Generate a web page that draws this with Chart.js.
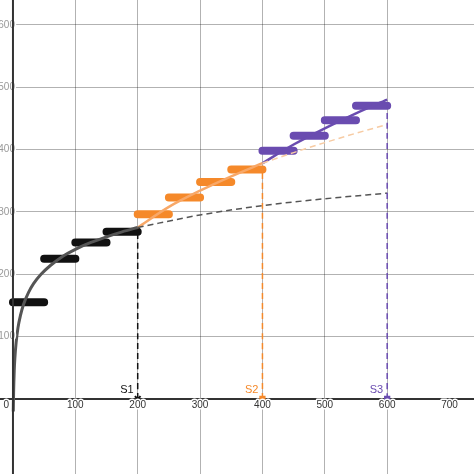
<!DOCTYPE html>
<html>
<head>
<meta charset="UTF-8">
<title>Stage curves</title>
<script src="https://cdn.jsdelivr.net/npm/chart.js"></script>
<style>
    body { margin: 0; background: #fff; }
    canvas { display: block; }
</style>
</head>
<body>
<canvas id="chart" width="474" height="474"></canvas>
<script>
    // curva principale (grigia)
    const curveX = [0.5, 1, 2, 3, 5, 8, 12, 17, 25, 33, 45, 60, 80, 100, 125, 150, 175, 200];
    const curveY = [-20, 10, 45, 65, 90, 114, 134, 152, 171, 185, 200, 214, 229, 240, 251, 260, 268, 275];
    // prolungamento tratteggiato della curva grigia
    const tailX = [200, 300, 400, 500, 600];
    const tailY = [275, 295, 310, 321, 330];
    // tratto arancione e suo prolungamento
    const orangeX = [200, 250, 300, 350, 400];
    const orangeY = [275, 308, 334, 357, 378];
    const orangeTailX = [400, 450, 500, 550, 600];
    const orangeTailY = [378, 395, 411, 426, 440];
    // tratto viola
    const purpleX = [400, 450, 500, 550, 600];
    const purpleY = [378, 408, 434, 458, 480];
    // gradini
    const stepStarts = [0, 50, 100, 150, 200, 250, 300, 350, 400, 450, 500, 550];
    const stepLevels = [155, 225, 251, 268, 296, 323, 348, 368, 398, 422, 447, 470];
    // fasi
    const stageX = [200, 400, 600];
    const stageLabels = ['S1', 'S2', 'S3'];
    // etichette assi
    const xTicks = [0, 100, 200, 300, 400, 500, 600, 700];
    const yTicks = [100, 200, 300, 400, 500, 600];

    const BLACK = '#111111', GRAY = '#555555';
    const ORANGE = '#f5892a', ORANGE_LINE = '#f8a868', ORANGE_PALE = '#f7cba3';
    const PURPLE = '#6a4cb0';
    const stageColors = [BLACK, ORANGE, PURPLE];

    function pts(xs, ys) {
        return xs.map((x, i) => ({ x: x, y: ys[i] }));
    }

    // un dataset per gruppo di 4 gradini, spezzato con y nulla
    function steps(from, to) {
        const out = [];
        for (let i = from; i < to; i++) {
            if (out.length) out.push({ x: stepStarts[i], y: null });
            out.push({ x: stepStarts[i], y: stepLevels[i] });
            out.push({ x: stepStarts[i] + 50, y: stepLevels[i] });
        }
        return out;
    }

    function line(data, color, width, dash) {
        return {
            data: data,
            showLine: true,
            borderColor: color,
            backgroundColor: color,
            borderWidth: width,
            borderDash: dash || [],
            pointRadius: 0,
            cubicInterpolationMode: 'monotone',
            spanGaps: false
        };
    }

    function bars(data, color) {
        const d = line(data, color, 8);
        d.borderCapStyle = 'round';
        d.cubicInterpolationMode = 'default';
        d.tension = 0;
        return d;
    }

    const datasets = [];
    // linee verticali tratteggiate, una per fase con il suo colore
    stageX.forEach((x, i) => {
        datasets.push(line([{ x: x, y: 0 }, { x: x, y: stepLevels[i * 4 + 3] }], stageColors[i], 1.5, [6, 4]));
    });
    datasets.push(line(pts(tailX, tailY), GRAY, 1.5, [6, 4]));
    datasets.push(line(pts(orangeTailX, orangeTailY), ORANGE_PALE, 1.5, [6, 4]));
    datasets.push(line(pts(curveX, curveY), GRAY, 3));
    datasets.push(line(pts(orangeX, orangeY), ORANGE_LINE, 2.5));
    datasets.push(line(pts(purpleX, purpleY), PURPLE, 2.5));
    datasets.push(bars(steps(0, 4), BLACK));
    datasets.push(bars(steps(4, 8), ORANGE));
    datasets.push(bars(steps(8, 12), PURPLE));
    // punti delle fasi sull'asse
    datasets.push({
        data: stageX.map(x => ({ x: x, y: 0 })),
        showLine: false,
        pointStyle: ['crossRot', 'rect', 'rect'],
        pointRadius: [4, 3, 3],
        borderWidth: 2,
        borderColor: stageColors,
        backgroundColor: stageColors
    });

    const axisLabels = {
        id: 'axisLabels',
        afterDraw(chart) {
            const ctx = chart.ctx;
            const xs = chart.scales.x, ys = chart.scales.y;
            const x0 = xs.getPixelForValue(0), y0 = ys.getPixelForValue(0);
            ctx.save();
            ctx.font = '10px "Liberation Sans", Arial, sans-serif';
            ctx.lineJoin = 'round';
            ctx.lineWidth = 3;
            ctx.strokeStyle = '#fff';
            // etichette asse x
            ctx.fillStyle = '#333';
            ctx.textBaseline = 'top';
            xTicks.forEach(v => {
                const px = xs.getPixelForValue(v);
                ctx.textAlign = v === 0 ? 'right' : 'center';
                const tx = v === 0 ? px - 4 : px;
                ctx.strokeText(String(v), tx, y0 + 1);
                ctx.fillText(String(v), tx, y0 + 1);
            });
            // etichette asse y
            ctx.fillStyle = '#999';
            ctx.textAlign = 'right';
            ctx.textBaseline = 'middle';
            yTicks.forEach(v => {
                const py = ys.getPixelForValue(v);
                ctx.strokeText(String(v), x0 + 2, py);
                ctx.fillText(String(v), x0 + 2, py);
            });
            // nomi delle fasi
            ctx.font = '11px "Liberation Sans", Arial, sans-serif';
            ctx.textBaseline = 'bottom';
            stageX.forEach((x, i) => {
                const px = xs.getPixelForValue(x);
                ctx.fillStyle = stageColors[i];
                ctx.strokeText(stageLabels[i], px - 4, y0 - 4);
                ctx.fillText(stageLabels[i], px - 4, y0 - 4);
            });
            // asse verticale sopra le etichette
            ctx.strokeStyle = '#333';
            ctx.lineWidth = 2;
            ctx.beginPath();
            ctx.moveTo(x0, chart.chartArea.top);
            ctx.lineTo(x0, chart.chartArea.bottom);
            ctx.stroke();
            ctx.restore();
        }
    };

    function gridOpts() {
        return {
            drawTicks: false,
            color: c => c.tick && c.tick.value === 0 ? '#333' : 'rgba(0,0,0,0.3)',
            lineWidth: c => c.tick && c.tick.value === 0 ? 2 : 1
        };
    }

    new Chart(document.getElementById('chart'), {
        type: 'scatter',
        data: { datasets: datasets },
        options: {
            responsive: false,
            animation: false,
            layout: { padding: 0, autoPadding: false },
            plugins: { legend: { display: false }, tooltip: { enabled: false } },
            scales: {
                x: {
                    type: 'linear',
                    min: -20.8,
                    max: 739.2,
                    border: { display: false },
                    ticks: { display: false, stepSize: 100 },
                    afterBuildTicks: a => { a.ticks = a.ticks.filter(t => t.value % 100 === 0); },
                    grid: gridOpts()
                },
                y: {
                    type: 'linear',
                    min: -120.3,
                    max: 639.7,
                    border: { display: false },
                    ticks: { display: false, stepSize: 100 },
                    afterBuildTicks: a => { a.ticks = a.ticks.filter(t => t.value % 100 === 0); },
                    grid: gridOpts()
                }
            }
        },
        plugins: [axisLabels]
    });
</script>
</body>
</html>
